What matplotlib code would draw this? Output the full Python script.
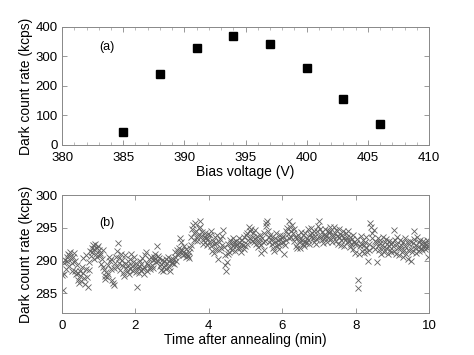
import numpy as np
import matplotlib
matplotlib.use('Agg')
import matplotlib.pyplot as plt
from matplotlib.ticker import MultipleLocator

# (a) dark count rate vs bias voltage
bias = [385, 388, 391, 394, 397, 400, 403, 406]
rate_a = [45, 242, 330, 370, 342, 261, 157, 70]

# (b) dark count rate after annealing, one list per minute
m0 = [287.8, 285.5, 288.0, 289.6, 290.1, 288.7, 289.9, 290.5, 291.0, 289.2, 290.8, 291.3, 290.2, 288.4, 289.7, 290.6, 291.2, 290.0, 288.5, 287.9, 289.3, 288.1, 287.0, 286.6, 288.4, 287.6, 286.9, 289.0, 290.4, 288.2, 287.3, 286.5, 288.8, 290.9, 287.5, 286.0, 288.6, 289.8, 291.5, 290.7, 292.0, 291.3, 292.4, 290.2, 291.8, 292.6, 291.0, 290.5, 291.9, 292.3]
m1 = [291.6, 290.8, 291.2, 289.5, 290.3, 291.7, 289.0, 288.6, 287.6, 287.2, 288.3, 287.5, 289.4, 288.0, 290.5, 289.9, 290.2, 288.8, 287.0, 286.6, 288.9, 286.3, 289.6, 290.6, 289.1, 291.5, 292.7, 290.4, 289.7, 288.6, 291.0, 289.3, 290.1, 288.2, 287.7, 289.5, 290.8, 288.9, 288.4, 290.0, 289.4, 287.9, 288.7, 290.3, 291.1, 289.2, 288.5, 289.8, 290.6, 289.0]
m2 = [288.3, 289.6, 286.0, 288.9, 289.2, 288.1, 290.0, 288.6, 289.5, 290.4, 288.8, 287.9, 289.1, 290.9, 291.4, 289.7, 288.5, 289.3, 290.2, 289.0, 288.7, 290.6, 289.4, 288.9, 290.1, 290.5, 291.0, 290.3, 289.8, 292.3, 290.7, 289.9, 290.4, 289.2, 288.6, 289.5, 290.1, 288.4, 289.0, 290.0, 289.3, 290.2, 288.8, 289.7, 290.5, 289.1, 289.9, 288.5, 290.3, 289.6]
m3 = [289.8, 290.2, 289.5, 290.6, 291.3, 290.0, 291.6, 290.9, 291.2, 292.0, 291.5, 293.4, 292.8, 291.7, 290.8, 291.4, 292.2, 291.0, 290.5, 291.8, 291.1, 290.7, 291.3, 290.4, 291.9, 292.4, 293.6, 294.8, 295.5, 293.2, 294.2, 295.8, 294.6, 293.5, 293.0, 294.0, 295.0, 296.1, 295.2, 293.8, 294.4, 293.1, 292.6, 293.7, 294.3, 292.9, 293.5, 292.4, 294.1, 293.3]
m4 = [292.8, 293.9, 294.5, 292.2, 291.5, 293.0, 291.2, 292.5, 293.6, 291.8, 292.7, 294.0, 290.3, 291.6, 292.9, 293.3, 291.9, 292.4, 293.8, 294.7, 292.1, 290.8, 289.3, 288.5, 289.8, 291.1, 292.6, 291.4, 292.0, 293.2, 292.7, 291.7, 292.3, 293.5, 292.9, 291.5, 292.2, 293.0, 292.5, 291.9, 293.4, 292.8, 292.0, 291.3, 292.6, 293.1, 292.4, 291.8, 293.7, 292.2]
m5 = [293.9, 292.5, 294.3, 293.2, 295.1, 294.6, 293.4, 294.9, 293.0, 294.2, 293.6, 292.8, 294.7, 293.3, 292.6, 293.8, 292.1, 293.1, 292.7, 293.9, 291.2, 292.4, 293.5, 292.9, 291.6, 294.2, 293.0, 295.3, 295.8, 296.1, 294.5, 293.7, 292.8, 294.0, 293.2, 292.5, 293.6, 292.0, 291.5, 292.8, 293.4, 294.2, 292.3, 293.1, 292.6, 291.8, 293.3, 294.0, 292.7, 293.5]
m6 = [292.9, 293.8, 291.0, 292.4, 294.5, 293.2, 295.0, 294.1, 293.5, 296.0, 295.2, 294.6, 293.7, 295.5, 294.3, 293.0, 294.9, 293.6, 292.2, 291.9, 293.4, 294.0, 292.8, 293.3, 292.0, 294.4, 293.1, 292.6, 293.9, 292.3, 294.2, 293.0, 292.7, 293.5, 294.8, 293.2, 292.5, 294.1, 293.6, 295.0, 294.3, 293.4, 292.9, 294.6, 293.8, 292.6, 293.3, 294.5, 295.3, 293.7]
m7 = [296.1, 294.9, 293.6, 294.4, 293.1, 292.7, 294.0, 293.4, 294.8, 293.9, 292.9, 294.5, 293.5, 294.2, 295.2, 294.6, 293.3, 292.8, 294.0, 293.7, 295.1, 294.3, 293.0, 294.7, 293.8, 292.5, 293.6, 294.9, 294.1, 293.2, 292.4, 293.9, 294.5, 293.4, 292.2, 293.1, 294.3, 292.8, 293.6, 294.6, 293.0, 292.1, 293.7, 292.6, 293.3, 294.0, 291.8, 292.9, 291.2, 292.5]
m8 = [292.7, 293.3, 287.0, 285.9, 291.0, 292.2, 293.8, 292.6, 291.5, 293.1, 292.4, 291.2, 292.8, 293.6, 292.0, 291.4, 290.0, 292.5, 291.7, 295.8, 295.2, 294.3, 293.5, 292.1, 294.7, 293.0, 291.8, 292.9, 289.8, 293.4, 292.3, 291.6, 293.1, 292.7, 291.0, 292.4, 293.6, 292.0, 291.3, 292.8, 293.3, 291.9, 292.5, 291.1, 292.2, 293.0, 291.7, 292.6, 291.4, 292.9]
m9 = [292.3, 291.5, 294.7, 293.2, 291.0, 292.6, 293.7, 292.0, 290.8, 291.9, 293.1, 292.4, 291.3, 292.8, 290.6, 291.7, 293.4, 292.2, 291.1, 292.9, 291.6, 290.2, 292.5, 293.0, 291.8, 290.0, 291.4, 292.7, 294.6, 293.3, 291.9, 292.4, 291.2, 293.6, 292.1, 291.5, 292.8, 293.2, 292.0, 291.6, 292.5, 293.0, 292.2, 291.8, 292.7, 292.4, 293.1, 292.0, 290.5, 292.6]

rate_b = m0 + m1 + m2 + m3 + m4 + m5 + m6 + m7 + m8 + m9
t_b = np.linspace(0, 10, len(rate_b))

plt.rcParams['font.family'] = ['Liberation Sans', 'DejaVu Sans']

fig = plt.figure(figsize=(4.74, 3.55), dpi=100)
ax1 = fig.add_axes((0.131, 0.592, 0.774, 0.332))
ax2 = fig.add_axes((0.131, 0.118, 0.774, 0.332))

ax1.plot(bias, rate_a, 's', color='black', markersize=5.5)
ax1.set_xlim(380, 410)
ax1.set_ylim(0, 400)
ax1.xaxis.set_major_locator(MultipleLocator(5))
ax1.xaxis.set_minor_locator(MultipleLocator(1))
ax1.yaxis.set_major_locator(MultipleLocator(100))
ax1.set_xlabel('Bias voltage (V)', fontsize=10, labelpad=1)
ax1.set_ylabel('Dark count rate (kcps)', fontsize=10, labelpad=2)
ax1.text(383, 332, '(a)', fontsize=9, va='center')

ax2.plot(t_b, rate_b, 'x', color='#606060', markersize=4, markeredgewidth=0.6)
ax2.set_xlim(0, 10)
ax2.set_ylim(282, 300)
ax2.xaxis.set_major_locator(MultipleLocator(2))
ax2.set_yticks([285, 290, 295, 300])
ax2.set_xlabel('Time after annealing (min)', fontsize=10, labelpad=1)
ax2.set_ylabel('Dark count rate (kcps)', fontsize=10, labelpad=2)
ax2.text(1.0, 295.7, '(b)', fontsize=9, va='center')

for ax in (ax1, ax2):
    for s in ax.spines.values():
        s.set_color('#888888')
        s.set_linewidth(0.7)
    ax.tick_params(which='both', direction='in', top=True, right=True,
                   labelsize=9.5, color='#888888')
    ax.tick_params(axis='x', pad=5)
    ax.tick_params(axis='y', pad=3)
    ax.tick_params(which='major', length=3.5, width=0.6)
    ax.tick_params(which='minor', length=2, width=0.4)

fig.savefig('out.png', dpi=100)
